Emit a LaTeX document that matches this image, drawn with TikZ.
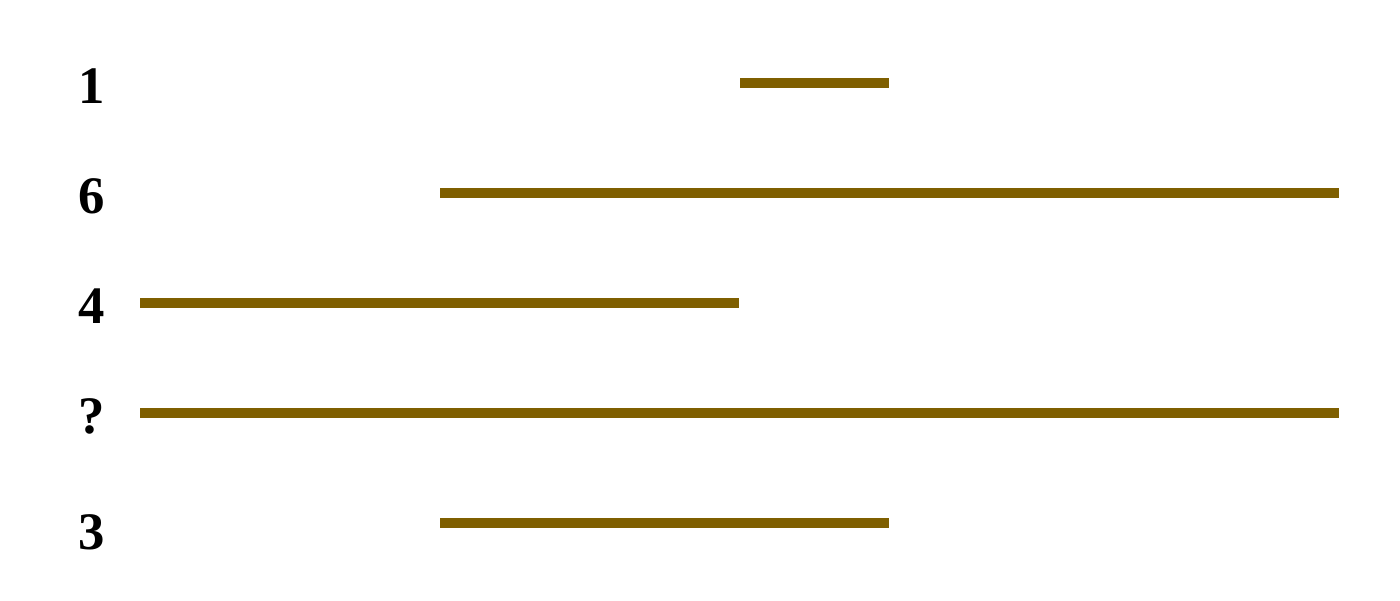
\documentclass[tikz,border=0pt]{standalone}
\usepackage{fontspec}
\setmainfont{Liberation Serif}

\definecolor{barbrown}{RGB}{127,95,0}

\begin{document}
\begin{tikzpicture}[%
					x=0.02cm, y=-0.02cm,
					every node/.style={%
						font=\fontsize{30}{30}\selectfont\bfseries,
						inner sep=0pt
					},
					bar/.style={%
						draw=barbrown,
						line width=0.185cm
					}
				]

				\useasboundingbox (0, 0) rectangle (1400, 600);

				% labels on the left
				\node (one)   at (92, 86)  {1};
				\node (six)   at (92, 196) {6};
				\node (four)  at (92, 306) {4};
				\node (quest) at (92, 416) {?};
				\node (three) at (92, 532) {3};

				% ends of the bars
				\coordinate (oneA)   at (740, 83);   \coordinate (oneB)   at (889, 83);
				\coordinate (sixA)   at (440, 193);  \coordinate (sixB)   at (1339, 193);
				\coordinate (fourA)  at (140, 303);  \coordinate (fourB)  at (739, 303);
				\coordinate (questA) at (140, 413);  \coordinate (questB) at (1339, 413);
				\coordinate (threeA) at (440, 523);  \coordinate (threeB) at (889, 523);

				\foreach \bar in {one, six, four, quest, three} {
					\draw[bar] (\bar A) -- (\bar B);
				}
			\end{tikzpicture}
\end{document}
